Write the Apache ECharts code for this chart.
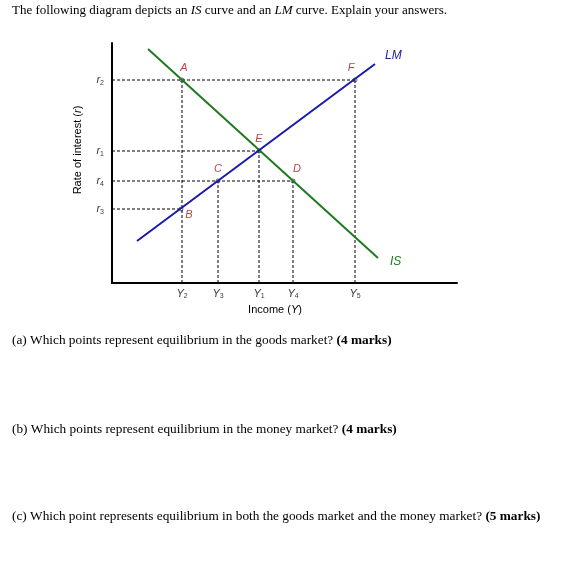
<!DOCTYPE html>
<html><head><meta charset="utf-8">
<script src="https://cdn.jsdelivr.net/npm/echarts@6/dist/echarts.min.js"></script>
<style>body{margin:0;background:#fff}#c{width:567px;height:562px}</style>
</head><body><div id="c"></div>
<script>
// points on the diagram (x = income, y = rate), in chart units
const pointNames = ['A', 'F', 'E', 'C', 'D', 'B'];
const pointX = [70, 243, 147, 106, 181, 69];
const pointY = [203, 203, 132, 102, 102, 74];
const isCurve = [[36, 234], [266, 25]];
const lmCurve = [[25, 42], [263, 219]];
const xTickNames = ['2', '3', '1', '4', '5'];
const xTickVals = [70, 106, 147, 181, 243];
const yTickNames = ['2', '1', '4', '3'];
const yTickVals = [203, 132, 102, 74];
const questions = [
  ['(a) Which points represent equilibrium in the goods market? ', '(4 marks)', 341],
  ['(b) Which points represent equilibrium in the money market? ', '(4 marks)', 430],
  ['(c) Which point represents equilibrium in both the goods market and the money market? ', '(5 marks)', 517]
];

const chart = echarts.init(document.getElementById('c'));
const serif = 'Liberation Serif';
const sans = 'Liberation Sans';

const dashed = [];
xTickVals.forEach((x, i) => {
  const y = pointY[pointX.indexOf(x)];
  dashed.push([[x, 0], [x, y]]);
});
yTickVals.forEach(y => {
  const xs = pointX.filter((x, i) => pointY[i] === y);
  dashed.push([[0, y], [Math.max(...xs), y]]);
});

const labelOffsets = {A: [2, -12], F: [-4, -12], E: [0, -12], C: [0, -12], D: [4, -12], B: [8, 6]};

chart.setOption({
  animation: false,
  grid: {left: 112, top: 43, width: 345, height: 240},
  xAxis: {type: 'value', min: 0, max: 345, splitLine: {show: false}, axisTick: {show: false},
    axisLabel: {show: false}, axisLine: {onZero: false, lineStyle: {color: '#000', width: 2}}},
  yAxis: {type: 'value', min: 0, max: 240, splitLine: {show: false}, axisTick: {show: false},
    axisLabel: {show: false}, axisLine: {onZero: false, lineStyle: {color: '#000', width: 2}}},
  series: [
    ...dashed.map(seg => ({type: 'line', data: seg, symbol: 'none', silent: true,
      lineStyle: {color: '#000', width: 1, type: [3, 2]}})),
    {type: 'line', data: isCurve, symbol: 'none', lineStyle: {color: '#1f7a1f', width: 2},
      endLabel: {show: true, formatter: 'IS', color: '#1f7a1f', fontFamily: sans, fontStyle: 'italic', fontSize: 12, offset: [4, 4]}},
    {type: 'line', data: lmCurve, symbol: 'none', lineStyle: {color: '#1a1aa8', width: 2},
      endLabel: {show: true, formatter: 'LM', color: '#1a1aa8', fontFamily: sans, fontStyle: 'italic', fontSize: 12, offset: [2, -8]}},
    {type: 'scatter', symbol: 'circle', symbolSize: 4,
      itemStyle: {color: '#fff', borderColor: '#444', borderWidth: 1},
      data: pointNames.map((n, i) => ({value: [pointX[i], pointY[i]], name: n,
        label: {show: true, formatter: n, offset: labelOffsets[n], color: '#a01818',
          fontFamily: sans, fontStyle: 'italic', fontSize: 11}}))},
    {type: 'scatter', symbolSize: 0, silent: true,
      data: xTickVals.map((x, i) => ({value: [x, 0], label: {show: true, position: 'bottom', distance: 4,
        formatter: '{i|Y}{s|' + xTickNames[i] + '}',
        rich: {i: {fontFamily: sans, fontStyle: 'italic', fontSize: 11, color: '#000'}, s: {fontFamily: sans, fontSize: 7, color: '#000', padding: [6, 0, 0, 0]}}}}))},
    {type: 'scatter', symbolSize: 0, silent: true,
      data: yTickVals.map((y, i) => ({value: [0, y], label: {show: true, position: 'left', distance: 8,
        formatter: '{i|r}{s|' + yTickNames[i] + '}',
        rich: {i: {fontFamily: sans, fontStyle: 'italic', fontSize: 11, color: '#000'}, s: {fontFamily: sans, fontSize: 7, color: '#000', padding: [6, 0, 0, 0]}}}}))}
  ],
  graphic: [
    {type: 'text', left: 12, top: 4, style: {text: 'The following diagram depicts an {i|IS} curve and an {i|LM} curve. Explain your answers.',
      font: '13px ' + serif, fill: '#000', rich: {i: {fontStyle: 'italic', fontFamily: serif, fontSize: 13}}}},
    {type: 'text', x: 275, y: 304, style: {text: 'Income ({i|Y})', align: 'center', font: '11px ' + sans, fill: '#000',
      rich: {i: {fontStyle: 'italic', fontFamily: sans, fontSize: 11}}}},
    {type: 'text', x: 72, y: 150, rotation: Math.PI / 2, style: {text: 'Rate of interest ({i|r})', align: 'center', verticalAlign: 'top',
      font: '11px ' + sans, fill: '#000', rich: {i: {fontStyle: 'italic', fontFamily: sans, fontSize: 11}}}},
    ...questions.map(q => ({type: 'text', left: 12, top: q[2] - 7, style: {text: q[0] + '{b|' + q[1] + '}',
      font: '13.3px ' + serif, fill: '#000', rich: {b: {fontWeight: 'bold', fontFamily: serif, fontSize: 13.3}}}}))
  ]
});
</script></body></html>
